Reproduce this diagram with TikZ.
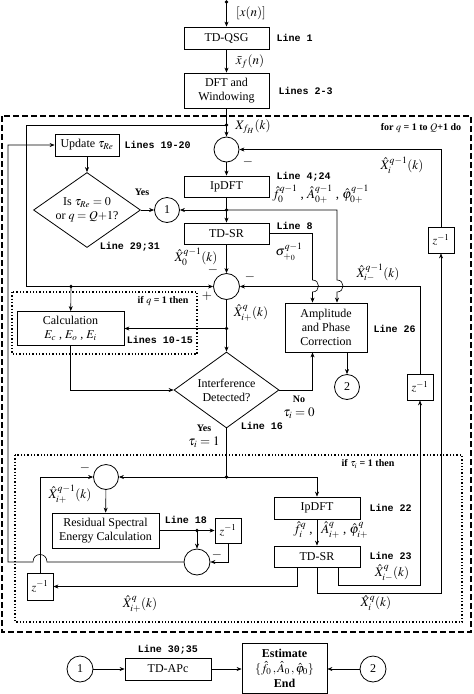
\documentclass[tikz,border=0pt]{standalone}
\usepackage{mathptmx}
\usepackage{fontspec}
\setmainfont{Liberation Serif}
\setmonofont{Liberation Mono}
\usetikzlibrary{arrows.meta,shapes.geometric}

\tikzset{
  blk/.style={draw, line width=0.8pt, minimum width=85, minimum height=22, inner sep=1pt,
    align=center, font=\fontsize{12}{14}\selectfont},
  sumnode/.style={draw, line width=0.8pt, circle, minimum size=25, inner sep=0pt,
    font=\fontsize{12}{14}\selectfont},
  decide/.style={draw, line width=0.8pt, diamond, aspect=1.43, inner sep=0pt, align=center,
    font=\fontsize{12}{14}\selectfont},
  lineno/.style={font=\fontsize{10}{11}\selectfont\ttfamily\bfseries},
  cond/.style={font=\fontsize{10}{11}\selectfont\bfseries},
  sig/.style={font=\fontsize{13}{14}\selectfont, inner sep=1pt},
  arr/.style={-{Stealth[length=5pt,width=4pt]}},
}

\begin{document}
\begin{tikzpicture}[x=1pt, y=-1pt, line width=0.6pt]
  \useasboundingbox (0,0) rectangle (474,694);
  % loop frames
  \draw[line width=1.2pt, dash pattern=on 6pt off 3pt] (2,116) rectangle (471,632);
  \draw[line width=1.3pt, dotted] (12,292) rectangle (197,354);
  \draw[line width=1.3pt, dotted] (15,455) rectangle (462,622);

  % main chain
  \coordinate (in) at (226.5,2);
  \node[blk] (tdqsg) at (226.5,38) {TD-QSG};
  \node[blk, minimum height=35] (dft) at (226.5,90.5) {DFT and\\Windowing};
  \node[sumnode] (sum1) at (226.5,149.5) {};
  \node[blk, minimum height=21] (ipdft) at (226.5,186.5) {IpDFT};
  \node[blk, minimum height=21] (tdsr) at (226.5,233.5) {TD-SR};
  \node[sumnode, minimum size=26] (sum2) at (226.5,286.5) {};
  \node[decide, minimum width=105, minimum height=76] (intf) at (226.5,390) {Interference\\Detected?};
  % left side
  \node[blk, minimum width=64] (upd) at (87,145) {Update $\tau_{Re}$};
  \node[decide, minimum width=107, minimum height=75] (isdone) at (87,210) {Is $\tau_{Re}=0$\\or $q=Q{+}1$?};
  \node[sumnode] (c1) at (167,210) {1};
  \node[blk, minimum width=107, minimum height=34] (calc) at (70.5,328.5) {Calculation\\$E_c$ , $E_o$ , $E_i$};
  % right side
  \node[blk, minimum width=82, minimum height=49] (amp) at (326,327.5) {Amplitude\\and Phase\\Correction};
  \node[sumnode] (c2) at (347,387) {2};
  \node[blk, minimum width=26, minimum height=26] (zr1) at (441,240) {$z^{-1}$};
  \node[blk, minimum width=26, minimum height=26] (zr2) at (420,387) {$z^{-1}$};
  % interference branch
  \node[sumnode] (sum3) at (106,477) {};
  \node[blk, minimum width=107, minimum height=35] (resid) at (105.5,530.5) {Residual Spectral\\Energy Calculation};
  \node[blk, minimum width=26, minimum height=25] (zres) at (228,530.5) {$z^{-1}$};
  \node[sumnode, minimum size=26] (sum4) at (197,562) {};
  \node[blk, minimum width=26, minimum height=27] (zl) at (40,586.5) {$z^{-1}$};
  \node[blk, minimum width=86] (ipdft2) at (317,508) {IpDFT};
  \node[blk, minimum width=86, minimum height=21] (tdsr2) at (317,556.5) {TD-SR};
  % after the loop
  \node[sumnode, minimum size=26] (c1b) at (80,669) {1};
  \node[blk, minimum width=86] (tdapc) at (168,669) {TD-APc};
  \node[blk, minimum height=50, font=\fontsize{12}{15}\selectfont] (est) at (284.5,668)
    {\textbf{Estimate}\\$\{\hat f_0\,, \hat A_0\,, \hat\varphi_0\}$\\\textbf{End}};
  \node[sumnode, minimum size=26] (c2b) at (373,669) {2};

  % junctions
  \coordinate (d1) at (226.5,125);
  \coordinate (d2) at (71,286.5);
  \coordinate (d3) at (226.5,210);
  \coordinate (d4) at (226.5,328.5);
  \coordinate (d5) at (226.5,477);
  \coordinate (d6) at (197,530.5);
  \foreach \j in {in,d1,d2,d3,d4,d5,d6} \fill (\j) circle (1.8);

  \draw[arr] (in) -- (tdqsg);
  \draw[arr] (tdqsg) -- (dft);
  \draw[arr] (dft) -- (sum1);
  \draw[arr] (sum1) -- (ipdft);
  \draw[arr] (ipdft) -- (tdsr);
  \draw[arr] (tdsr) -- (sum2);
  \draw[arr] (sum2) -- (intf);
  \draw (intf) -- (d5);
  \draw[arr] (d1) -| (26,286.5) -- (sum2.west);
  \draw[arr] (d2) -- (calc);
  \draw[arr] (d3) -- (c1);
  \draw[arr] (d4) -- (d4 -| calc.east);
  \draw[arr] (calc) |- (intf);
  \draw[arr] (upd) -- (isdone);
  \draw[arr] (isdone) -- (c1);
  \draw[arr] (intf) -| ([xshift=-13.5]amp.south);
  \draw[arr] (amp.south -| c2) -- (c2);
  \draw[arr] (d3) -| (337,280) .. controls (345,280) and (345,292) .. (337,292) -- ([xshift=11]amp.north);
  \draw[arr] (tdsr.east) -| (312.5,280) .. controls (320.5,280) and (320.5,292) .. (312.5,292) -- ([xshift=-13.5]amp.north);
  \draw[arr] (zr1) |- (sum1);
  \draw[arr] (zr2) |- (sum2);
  \draw[arr] (d5) -- (sum3);
  \draw[arr] (d5) -| (ipdft2);
  \draw[arr] (ipdft2) -- (tdsr2);
  \draw[arr] (sum3) -- (resid);
  \draw[arr] (resid) -- (zres);
  \draw[arr] (d6) -- (sum4);
  \draw[arr] (zres) |- (sum4);
  \draw[arr] (sum4) -- (47,562) .. controls (47,552) and (33,552) .. (33,562) -- (8,562) |- (upd);
  \draw[arr] (zl) |- (sum3);
  \draw[arr] ([xshift=-20]tdsr2.south) |- (zl);
  \draw[arr] (tdsr2) -- ++(0,36.5) -| (zr1);
  \draw[arr] ([xshift=21]tdsr2.south) -- ++(0,18) -| (zr2);
  \draw[arr] (c1b) -- (tdapc);
  \draw[arr] (tdapc) -- (tdapc.east -| est.west);
  \draw[arr] (c2b) -- (c2b.west -| est.east);

  % labels
  \node[sig] (lxn) at (251,13) {$[x(n)]$};
  \node[sig] (lxf) at (250,62) {$\bar x_f(n)$};
  \node[sig] (lxfh) at (253,127) {$X_{f_H}(k)$};
  \node[sig] (m1) at (248,162) {$-$};
  \node[sig] (lxi) at (402,165) {$\hat X_i^{q-1}(k)$};
  \node[cond] (lfor) at (421,128) {for $q$ = 1 to $Q$+1 do};
  \node[lineno, anchor=west] (n1) at (273,38) {Line 1};
  \node[lineno, anchor=west] (n23) at (275,91) {Lines 2-3};
  \node[lineno, anchor=west] (n1920) at (121,145) {Lines 19-20};
  \node[cond] (lyes1) at (142,192) {Yes};
  \node[lineno] (n2931) at (130,247) {Line 29;31};
  \node[lineno, anchor=west] (n424) at (273,177) {Line 4;24};
  \node[sig, anchor=west] (lpar0) at (271,194) {$\hat f_0^{q-1}$ , $\hat A_{0+}^{q-1}$ , $\hat\varphi_{0+}^{q-1}$};
  \node[lineno, anchor=west] (n8) at (273,226) {Line 8};
  \node[sig] (lsig) at (289,252) {$\sigma_{+_0}^{q-1}$};
  \node[sig] (lx0) at (196,257) {$\hat X_0^{q-1}(k)$};
  \node[sig] (m2) at (213,270) {$-$};
  \node[sig] (m3) at (250,277) {$-$};
  \node[sig] (lxim) at (378,273) {$\hat X_{i-}^{q-1}(k)$};
  \node[sig] (p2) at (207,296) {$+$};
  \node[sig] (lxip) at (251,313) {$\hat X_{i+}^{q}(k)$};
  \node[cond, anchor=east] (lifq) at (192,301) {if $q$ = 1 then};
  \node[lineno] (n1015) at (160,340) {Lines 10-15};
  \node[lineno, anchor=west] (n26) at (370,329) {Line 26};
  \node[cond] (lno) at (299,399) {No};
  \node[sig] (lt0) at (299,413) {$\tau_i=0$};
  \node[cond] (lyes2) at (204,428) {Yes};
  \node[sig] (lt1) at (204,442) {$\tau_i=1$};
  \node[lineno] (n16) at (262,426) {Line 16};
  \node[cond] (lift) at (368,464) {if $\tau_i$ = 1 then};
  \node[sig] (m4) at (85,468) {$-$};
  \node[sig] (lxipo) at (70,494) {$\hat X_{i+}^{q-1}(k)$};
  \node[lineno] (n18) at (186,520) {Line 18};
  \node[sig] (m5) at (217,555) {$-$};
  \node[lineno, anchor=west] (n22) at (366,508) {Line 22};
  \node[lineno, anchor=west] (n23b) at (366,556) {Line 23};
  \node[sig, anchor=east] (lfi) at (314,530) {$\hat f_i^q$ ,};
  \node[sig, anchor=west] (lai) at (320,530) {$\hat A_{i+}^q$ , $\hat\varphi_{i+}^q$};
  \node[sig] (lxqm) at (392,573) {$\hat X_{i-}^q(k)$};
  \node[sig] (lxq) at (376,603) {$\hat X_i^q(k)$};
  \node[sig] (lxqp) at (140,604) {$\hat X_{i+}^q(k)$};
  \node[lineno] (n3035) at (168,650) {Line 30;35};
\end{tikzpicture}
\end{document}
